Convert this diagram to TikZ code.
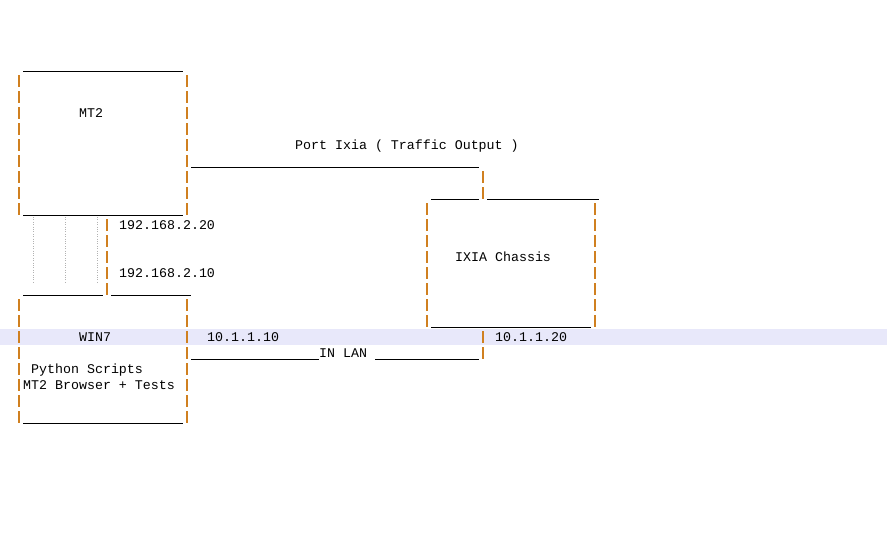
\documentclass[tikz,border=0pt]{standalone}
\usepackage{fontspec}
\setmonofont{Liberation Mono}
\definecolor{band}{RGB}{232,232,250}
\definecolor{orbar}{RGB}{208,128,32}
\begin{document}
\begin{tikzpicture}[x=1pt,y=-1pt,
  txt/.style={anchor=base west,inner sep=0pt,font=\fontsize{13.3}{16}\ttfamily},
  vbar/.style={draw=orbar,line width=1.3pt},
  uline/.style={draw=black,line width=1pt}]
\useasboundingbox (0,0) rectangle (887,555);
\fill[band] (0,329) rectangle (887,345);
\newcommand\vb[2]{\draw[vbar] ({19+8*#1},{81+16*#2-6}) -- ({19+8*#1},{81+16*#2+6});}
\newcommand\ul[3]{\draw[uline] ({15+8*#1},{81+16*#3+6}) -- ({15+8*#2+8},{81+16*#3+6});}
\newcommand\tx[4]{\node[txt] (#1) at ({15+8*#2},{81+16*#3+4.5}) {#4};}
% MT2 box
\ul{1}{20}{-1}
\foreach \r in {0,...,8}{\vb{0}{\r}\vb{21}{\r}}
\ul{1}{20}{8}
\tx{mt2}{8}{2}{MT2}
% port line
\tx{port}{35}{4}{Port Ixia ( Traffic Output )}
\ul{22}{57}{5}
\vb{58}{6}\vb{58}{7}
\ul{52}{57}{7}\ul{59}{72}{7}
% IXIA box
\foreach \r in {8,...,15}{\vb{51}{\r}\vb{72}{\r}}
\ul{52}{71}{15}
\tx{ixia}{55}{11}{IXIA Chassis}
\vb{58}{16}\vb{58}{17}
\tx{ip4}{60}{16}{10.1.1.20}
% IN LAN
\ul{22}{37}{17}
\tx{lan}{38}{17}{IN LAN}
\ul{45}{57}{17}
% link MT2-WIN7
\foreach \xx in {33,65,97}{\draw[gray!60,dotted] (\xx,217) -- (\xx,282);}
\foreach \r in {9,...,13}{\vb{11}{\r}}
\tx{ip1}{13}{9}{192.168.2.20}
\tx{ip2}{13}{12}{192.168.2.10}
\ul{1}{10}{13}\ul{12}{21}{13}
% WIN7 box
\foreach \r in {14,...,21}{\vb{0}{\r}\vb{21}{\r}}
\ul{1}{20}{21}
\tx{win7}{8}{16}{WIN7}
\tx{ip3}{24}{16}{10.1.1.10}
\tx{py}{2}{18}{Python Scripts}
\tx{br}{1}{19}{MT2 Browser + Tests}
\end{tikzpicture}
\end{document}
